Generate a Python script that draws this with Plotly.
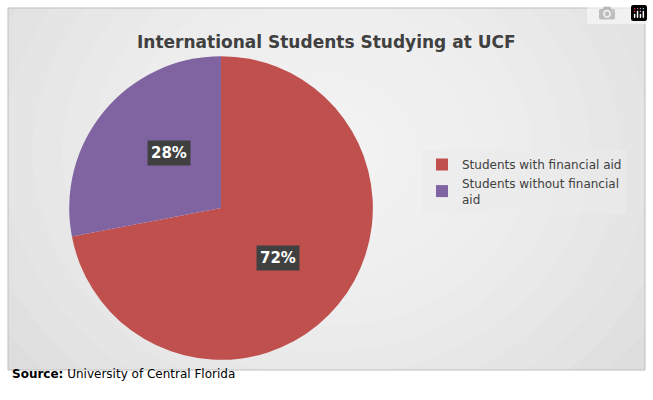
import plotly.graph_objects as go

labels = ["Students with financial aid", "Students without financial<br>aid"]
values = [72, 28]
colors = ["#C0504D", "#8064A2"]

fig = go.Figure(go.Pie(
    labels=labels, values=values, sort=False, direction="clockwise", rotation=0,
    marker=dict(colors=colors, line=dict(width=0)),
    textinfo="none", hoverinfo="label+percent",
    domain=dict(x=[0.106, 0.571], y=[0.1, 0.86]),
))

shapes = []
x0, x1, y0, y1 = 8/653, 645/653, 0.075, 0.98
shapes.append(dict(type="rect", xref="paper", yref="paper", x0=x0, x1=x1, y0=y0, y1=y1,
                   fillcolor="#d2d2d2", line=dict(width=0), layer="below"))
cx, cy = 0.5, 0.62
n = 16
for i in range(n):
    f = 1 - i / n
    rx, ry = 0.72 * f, 1.0 * f
    shapes.append(dict(type="circle", xref="paper", yref="paper",
                       x0=cx - rx, x1=cx + rx, y0=cy - ry, y1=cy + ry,
                       fillcolor="rgba(255,255,255,0.1)", line=dict(width=0), layer="below"))
# white outside the box
shapes += [
    dict(type="rect", xref="paper", yref="paper", x0=0, x1=1, y0=y1, y1=1, fillcolor="white", line=dict(width=0), layer="below"),
    dict(type="rect", xref="paper", yref="paper", x0=0, x1=1, y0=0, y1=y0, fillcolor="white", line=dict(width=0), layer="below"),
    dict(type="rect", xref="paper", yref="paper", x0=0, x1=x0, y0=0, y1=1, fillcolor="white", line=dict(width=0), layer="below"),
    dict(type="rect", xref="paper", yref="paper", x0=x1, x1=1, y0=0, y1=1, fillcolor="white", line=dict(width=0), layer="below"),
    dict(type="rect", xref="paper", yref="paper", x0=x0, x1=x1, y0=y0, y1=y1, line=dict(color="#bfbfbf", width=1)),
]

pct = [f"{v}%" for v in values]
ann = [
    dict(text="<b>International Students Studying at UCF</b>", x=0.5, y=1 - 30/400, xref="paper", yref="paper",
         showarrow=False, font=dict(family="DejaVu Sans", size=17, color="#404040")),
    dict(text="<b>Source:</b> University of Central Florida", x=10/653, y=1 - 383/400, xref="paper", yref="paper",
         xanchor="left", showarrow=False, font=dict(family="DejaVu Sans", size=12, color="#000")),
    dict(text=f"<b>{pct[0]}</b>", x=278/653, y=1 - 258/400, xref="paper", yref="paper", showarrow=False,
         bgcolor="#404040", font=dict(family="DejaVu Sans", size=15, color="white"), borderpad=3),
    dict(text=f"<b>{pct[1]}</b>", x=147/653, y=1 - 153/400, xref="paper", yref="paper", showarrow=False,
         bgcolor="#404040", font=dict(family="DejaVu Sans", size=15, color="white"), borderpad=3),
]

fig.update_layout(
    width=653, height=400, margin=dict(l=0, r=0, t=0, b=0),
    paper_bgcolor="white", shapes=shapes, annotations=ann,
    legend=dict(x=422/653, y=1 - 150/400, xanchor="left", yanchor="top",
                bgcolor="rgba(235,235,235,0.6)", font=dict(family="DejaVu Sans", size=12, color="#404040"),
                tracegroupgap=4),
)
fig.write_html("out.html", post_script="document.body.style.margin='0';document.body.style.overflow='hidden';")
